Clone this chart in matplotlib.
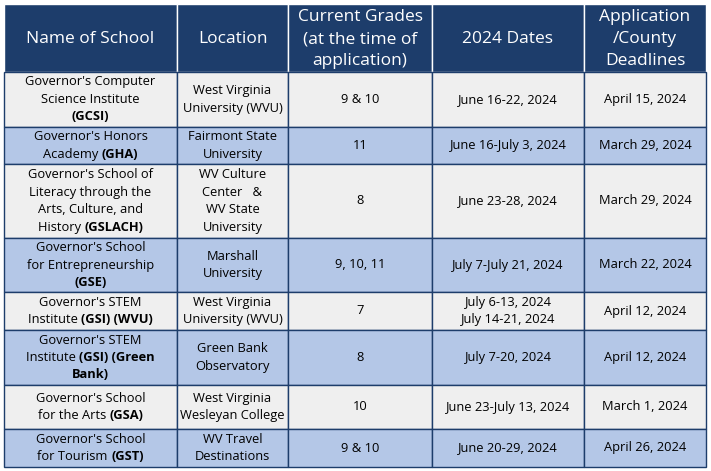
import matplotlib
matplotlib.use("Agg")
import matplotlib.pyplot as plt
from matplotlib.patches import Rectangle

headers = ["Name of School", "Location", "Current Grades\n(at the time of\napplication)",
           "2024 Dates", "Application\n/County\nDeadlines"]
schools = [
    "Governor's Computer\nScience Institute\n**(GCSI)",
    "Governor's Honors\nAcademy **(GHA)",
    "Governor's School of\nLiteracy through the\nArts, Culture, and\nHistory **(GSLACH)",
    "Governor's School\nfor Entrepreneurship\n**(GSE)",
    "Governor's STEM\nInstitute **(GSI) (WVU)",
    "Governor's STEM\nInstitute **(GSI) (Green\n**Bank)",
    "Governor's School\nfor the Arts **(GSA)",
    "Governor's School\nfor Tourism **(GST)",
]
locations = ["West Virginia\nUniversity (WVU)", "Fairmont State\nUniversity",
             "WV Culture\nCenter   &\nWV State\nUniversity", "Marshall\nUniversity",
             "West Virginia\nUniversity (WVU)", "Green Bank\nObservatory",
             "West Virginia\nWesleyan College", "WV Travel\nDestinations"]
grades = ["9 & 10", "11", "8", "9, 10, 11", "7", "8", "10", "9 & 10"]
dates = ["June 16-22, 2024", "June 16-July 3, 2024", "June 23-28, 2024",
         "July 7-July 21, 2024", "July 6-13, 2024\nJuly 14-21, 2024",
         "July 7-20, 2024", "June 23-July 13, 2024", "June 20-29, 2024"]
deadlines = ["April 15, 2024", "March 29, 2024", "March 29, 2024", "March 22, 2024",
             "April 12, 2024", "April 12, 2024", "March 1, 2024", "April 26, 2024"]

col_x = [4, 177, 288, 432, 584, 706]
row_y = [4, 72, 127, 164, 238, 292, 330, 385, 429, 467]
HEAD = "#1d3d6b"
ROW_COLORS = ["#efefef", "#b4c7e7"]
FONT = "Open Sans"
LINE_H = 17.5

fig = plt.figure(figsize=(7.11, 4.71), dpi=100)
ax = fig.add_axes([0, 0, 1, 1])
ax.set_xlim(0, 711)
ax.set_ylim(471, 0)
ax.axis("off")
renderer = fig.canvas.get_renderer()


def draw_rich(cx, cy, text, size, color="black", lh=LINE_H):
    """Centered multi-line text; '**' switches to bold for the rest of the line."""
    lines = text.split("\n")
    top = cy - (len(lines) - 1) * lh / 2
    for i, line in enumerate(lines):
        y = top + i * lh
        parts = line.split("**")
        segs = [(p, "bold" if j % 2 else "normal") for j, p in enumerate(parts) if p]
        arts, total = [], 0
        for s, w in segs:
            t = ax.text(0, y, s, fontsize=size, fontweight=w, family=FONT, color=color,
                        ha="left", va="center")
            wd = t.get_window_extent(renderer).width
            arts.append((t, wd))
            total += wd
        x = cx - total / 2
        for t, wd in arts:
            t.set_x(x)
            x += wd


# header
for c, h in enumerate(headers):
    ax.add_patch(Rectangle((col_x[c], row_y[0]), col_x[c + 1] - col_x[c], row_y[1] - row_y[0],
                           facecolor=HEAD, edgecolor="white", lw=1))
    draw_rich((col_x[c] + col_x[c + 1]) / 2, (row_y[0] + row_y[1]) / 2 + 1, h, 12.5, "white", 22)

cols = [schools, locations, grades, dates, deadlines]
for r in range(len(schools)):
    y0, y1 = row_y[r + 1], row_y[r + 2]
    for c, data in enumerate(cols):
        ax.add_patch(Rectangle((col_x[c], y0), col_x[c + 1] - col_x[c], y1 - y0,
                               facecolor=ROW_COLORS[r % 2], edgecolor=HEAD, lw=1))
        draw_rich((col_x[c] + col_x[c + 1]) / 2, (y0 + y1) / 2, data[r], 9.3)

fig.savefig("out.png", dpi=100)
